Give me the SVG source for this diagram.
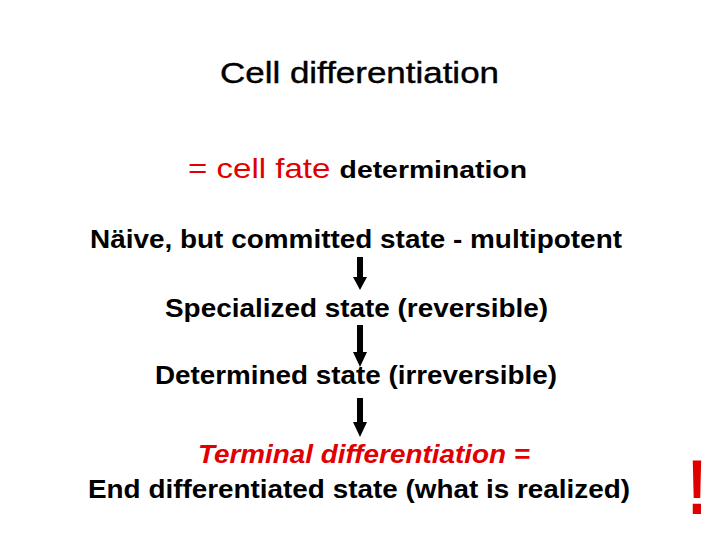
<svg xmlns="http://www.w3.org/2000/svg" width="720" height="540" viewBox="0 0 720 540">
<style>
.t{font-family:"Liberation Sans",Arial,sans-serif;fill:#000}
.b{font-weight:bold}
.r{fill:#e00000}
.a{fill:#000}
</style>
<rect width="720" height="540" fill="#fff"/>
<g id="title"><text class="t" x="220" y="83" font-size="29" textLength="279" lengthAdjust="spacingAndGlyphs" stroke="#000" stroke-width="0.4">Cell differentiation</text></g>
<g id="subtitle"><text class="t" x="188" y="178" font-size="28" textLength="339" lengthAdjust="spacingAndGlyphs"><tspan class="r">= cell fate </tspan><tspan class="b" font-size="24">determination</tspan></text></g>
<g id="naive"><text class="t b" x="90" y="248" font-size="25" textLength="532" lengthAdjust="spacingAndGlyphs">Näive, but committed state - multipotent</text></g>
<g id="specialized"><text class="t b" x="165" y="317" font-size="25" textLength="383" lengthAdjust="spacingAndGlyphs">Specialized state (reversible)</text></g>
<g id="determined"><text class="t b" x="155" y="384" font-size="25" textLength="402" lengthAdjust="spacingAndGlyphs">Determined state (irreversible)</text></g>
<g id="terminal"><text class="t b r" x="198" y="463" font-size="25" font-style="italic" textLength="332" lengthAdjust="spacingAndGlyphs">Terminal differentiation =</text>
<text class="t b" x="88" y="498" font-size="25" textLength="542" lengthAdjust="spacingAndGlyphs">End differentiated state (what is realized)</text></g>
<g id="connectors">
<path class="a" d="M357,257 H363 V277 H367 L360,290 L353,277 H357 Z"/>
<path class="a" d="M357,325 H363 V352 H367 L360,367 L353,352 H357 Z"/>
<path class="a" d="M357,398 H363 V422 H367 L360,437 L353,422 H357 Z"/>
</g>
<g id="exclaim"><text class="t b r" x="697" y="514" font-size="78" text-anchor="middle" transform="translate(697,0) scale(0.75,1) translate(-697,0)">!</text></g>
</svg>
